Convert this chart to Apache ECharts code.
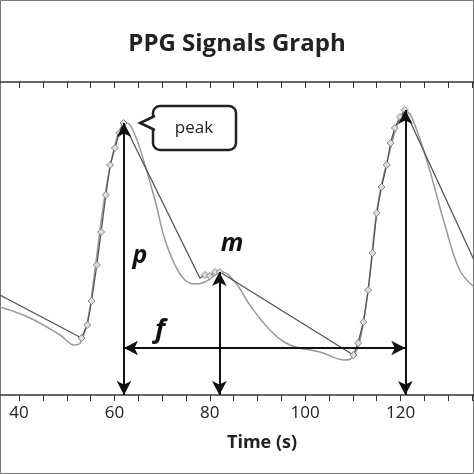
<!DOCTYPE html>
<html><head><meta charset="utf-8">
<script src="https://cdn.jsdelivr.net/npm/echarts@6/dist/echarts.min.js"></script>
<style>html,body{margin:0;padding:0;background:#fff}#c{width:474px;height:474px}</style>
</head><body><div id="c"></div>
<script>
// Time (s), amplitude (arbitrary units)
const markedSignal = [[36,100],[53.1,57],[54.3,70],[55.2,94],[56.3,130],[57.2,163],[58.2,200],[59.1,230],[60.1,247],[61.0,262],[61.9,272],
 [77.9,117],[79,120],[80,119],[81.1,123],[82.1,123],[110.1,40],[111.1,52],[112.2,73],[113.2,105],[114.1,142],[115,182],[116,208],[117.1,230],[117.9,252],[118.8,267],[119.9,278],[120.9,285],[135.4,135]];
const markerIdx = [1,2,3,4,5,6,7,8,9,10,12,13,14,15,16,17,18,19,20,21,22,23,24,25,26,27];
const rawSignal = [[36,88],[42.3,77],[48.6,60],[51.7,50],[52.8,52],[54.4,75],[55.9,125],[58,200],[60.1,250],[61.6,270],[62.6,272],[64.3,260],[66.4,230],[68.5,195],[70.6,155],[72.7,130],[74.8,115],[76.9,111],[79,113],[81.1,120],[82.5,123],[85.3,113],[88.4,90],[92.6,65],[96.8,50],[103.1,43],[108.3,35],[109.8,37],[111.5,55],[113.2,105],[115.2,190],[117.8,245],[119.9,277],[121.3,283],[123,270],[126.1,225],[129.3,170],[132.4,125],[135.4,108]];
const xLabels = [40,60,80,100,120,140];
const xTicks = [40,45,50,55,60,65,70,75,80,85,90,95,100,105,110,115,120,125,130,135];
const arrowsV = [[62,272],[82,123],[121,285]];
const arrowH = [[62,47],[121,47]];
const chart = echarts.init(document.getElementById('c'));
const markLineData = arrowsV.map(p=>[{coord:[p[0],p[1]]},{coord:[p[0],0]}]);
markLineData.push([{coord:arrowH[0]},{coord:arrowH[1]}]);
chart.setOption({
  animation:false,
  title:{text:'PPG Signals Graph',left:'center',top:27,textStyle:{fontFamily:'Open Sans',fontWeight:'bold',fontSize:24,color:'#222'}},
  grid:{left:0,right:0,top:82,bottom:79},
  xAxis:[{type:'value',min:36,max:135.4,
    axisLine:{lineStyle:{color:'#333',width:1.5}},
    axisTick:{customValues:xTicks,length:6,inside:false,lineStyle:{color:'#333'}},
    axisLabel:{customValues:xLabels,fontSize:17,color:'#222',fontFamily:'Open Sans',margin:10},
    splitLine:{show:false}},
   {type:'value',position:'top',min:36,max:135.4,
    axisLine:{lineStyle:{color:'#333',width:1.5}},
    axisTick:{customValues:xTicks,inside:true,length:6,lineStyle:{color:'#333'}},
    axisLabel:{show:false},splitLine:{show:false}}],
  yAxis:{type:'value',min:0,max:313,show:false},
  series:[
    {type:'line',data:rawSignal,smooth:0.4,showSymbol:false,lineStyle:{color:'#999',width:1.5},z:1},
    {type:'line',data:markedSignal.map((p,i)=>({value:p,symbol:markerIdx.includes(i)?'diamond':'none'})),
     symbolSize:7,itemStyle:{color:'#ddd',borderColor:'#888',borderWidth:1},lineStyle:{color:'#555',width:1.3},z:2,
     markLine:{silent:true,symbol:['arrow','arrow'],symbolSize:[11,14],label:{show:false},
       lineStyle:{color:'#111',width:2,type:'solid'},data:markLineData}}
  ],
  graphic:[
    {type:'rect',shape:{x:0.5,y:0.5,width:473,height:473},style:{fill:'none',stroke:'#777',lineWidth:1}},
    {type:'rect',shape:{x:153,y:106,width:83,height:44,r:7},style:{fill:'#fff',stroke:'#222',lineWidth:2.5},z:10},
    {type:'polyline',shape:{points:[[155,116],[140,123],[155,130]]},style:{fill:'#fff',stroke:'#222',lineWidth:2.5},z:11},
    {type:'rect',shape:{x:154.5,y:117.5,width:4,height:11},style:{fill:'#fff'},z:12},
    {type:'text',x:194,y:128,style:{text:'peak',fontSize:17,fontFamily:'Open Sans',fill:'#222',align:'center',verticalAlign:'middle'},z:13},
    {type:'text',x:140,y:256,style:{text:'p',fontSize:25,fontWeight:'bold',fontStyle:'italic',fontFamily:'Open Sans',fill:'#111',align:'center',verticalAlign:'middle'}},
    {type:'text',x:232,y:244,style:{text:'m',fontSize:25,fontWeight:'bold',fontStyle:'italic',fontFamily:'Open Sans',fill:'#111',align:'center',verticalAlign:'middle'}},
    {type:'text',x:160,y:330,style:{text:'f',fontSize:27,fontWeight:'bold',fontStyle:'italic',fontFamily:'Open Sans',fill:'#111',align:'center',verticalAlign:'middle'}},
    {type:'text',x:262,y:443,style:{text:'Time (s)',fontSize:18,fontWeight:'bold',fontFamily:'Open Sans',fill:'#222',align:'center',verticalAlign:'middle'}}
  ]
});
</script></body></html>
